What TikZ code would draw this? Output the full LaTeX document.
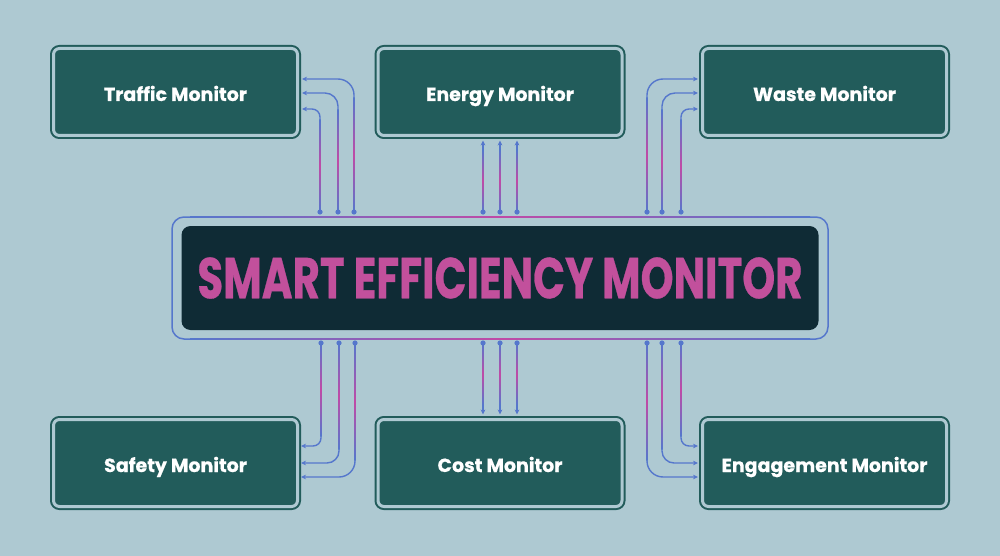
\documentclass[tikz,border=0pt]{standalone}
\usepackage{fontspec}
\newfontfamily\pop{Poppins}[BoldFeatures={FakeBold=0.6}]
\usetikzlibrary{arrows.meta,calc}
\definecolor{bg}{HTML}{AEC9D2}
\definecolor{boxteal}{HTML}{225C5B}
\definecolor{hubdark}{HTML}{0F2B35}
\definecolor{titlemag}{HTML}{C2509C}
\definecolor{lineblue}{HTML}{5577CC}
\definecolor{linemag}{HTML}{C04AA6}
\tikzset{
  smallbox/.style={draw=boxteal, line width=2pt, double=bg, double distance=3pt,
    fill=boxteal, rounded corners=6pt, minimum width=244pt, minimum height=87pt,
    inner sep=0pt, text=white, text height=20pt, text depth=2pt,
    font=\pop\bfseries\fontsize{19}{21}\selectfont},
  conn/.style={draw=lineblue, line width=1.4pt},
  tip/.style={-{Stealth[length=5pt,width=4.6pt]}},
  dotc/.style={fill=lineblue},
}
\newcommand\glowv[3]{\shade[top color=lineblue,bottom color=lineblue,middle color=linemag] (#1-0.7,#2) rectangle (#1+0.7,#3);}
\begin{document}
\begin{tikzpicture}[x=1pt,y=-1pt]
\useasboundingbox (0,0) rectangle (1000,556);
\fill[bg] (0,0) rectangle (1000,556);

% small boxes
\node[smallbox] (traffic) at (175.5,92) {Traffic Monitor};
\node[smallbox] (energy) at (500,92) {Energy Monitor};
\node[smallbox] (waste) at (824.5,92) {Waste Monitor};
\node[smallbox] (safety) at (175.5,463) {Safety Monitor};
\node[smallbox] (cost) at (500,463) {Cost Monitor};
\node[smallbox] (engage) at (824.5,463) {Engagement Monitor};

% hub
\node[draw=lineblue, line width=1.5pt, rounded corners=12pt, minimum width=656pt, minimum height=122pt, inner sep=0pt] (hub) at (500,278) {};
\shade[left color=lineblue,right color=lineblue,middle color=linemag] (190,216.25) rectangle (810,217.75);
\shade[left color=lineblue,right color=lineblue,middle color=linemag] (190,338.25) rectangle (810,339.75);
\node[fill=hubdark, rounded corners=9pt, minimum width=637pt, minimum height=104pt, inner sep=0pt] (hubin) at (500,278) {};
\node[text=titlemag, inner sep=0pt] (title) at (500,278) {\resizebox{605pt}{41pt}{\pop\bfseries SMART EFFICIENCY MONITOR}};

% dot coordinates
\foreach \n/\x in {tl1/320,tl2/338,tl3/354,tm1/483,tm2/500,tm3/517,tr1/647,tr2/662,tr3/681}
  \coordinate (\n) at (\x,212);
\foreach \n/\x in {bl1/321,bl2/339,bl3/355,bm1/483,bm2/500,bm3/517,br1/647,br2/662,br3/681}
  \coordinate (\n) at (\x,343);

% free ends
\coordinate (etl1) at ($(traffic.east)+(3.5,17)$);
\coordinate (etl2) at ($(traffic.east)+(3.5,1)$);
\coordinate (etl3) at ($(traffic.east)+(3.5,-13)$);
\coordinate (etr1) at ($(waste.west)+(-3.5,-13)$);
\coordinate (etr2) at ($(waste.west)+(-3.5,1)$);
\coordinate (etr3) at ($(waste.west)+(-3.5,17)$);
\coordinate (ebl1) at ($(safety.east)+(2.5,-17)$);
\coordinate (ebl2) at ($(safety.east)+(2.5,0)$);
\coordinate (ebl3) at ($(safety.east)+(2.5,14)$);
\coordinate (ebr1) at ($(engage.west)+(-3.5,14)$);
\coordinate (ebr2) at ($(engage.west)+(-3.5,0)$);
\coordinate (ebr3) at ($(engage.west)+(-3.5,-17)$);

% connectors top-left
\draw[conn,tip,rounded corners=8pt] (tl1) -- (tl1 |- etl1) -- (etl1);
\draw[conn,tip,rounded corners=13pt] (tl2) -- (tl2 |- etl2) -- (etl2);
\draw[conn,tip,rounded corners=16pt] (tl3) -- (tl3 |- etl3) -- (etl3);
% top-right
\draw[conn,tip,rounded corners=16pt] (tr1) -- (tr1 |- etr1) -- (etr1);
\draw[conn,tip,rounded corners=13pt] (tr2) -- (tr2 |- etr2) -- (etr2);
\draw[conn,tip,rounded corners=8pt] (tr3) -- (tr3 |- etr3) -- (etr3);
% top-middle
\foreach \n in {tm1,tm2,tm3}
  \draw[conn,tip] (\n) -- ([yshift=-4pt]energy.south -| \n);
% bottom-middle
\foreach \n in {bm1,bm2,bm3}
  \draw[conn,tip] (\n) -- ([yshift=4pt]cost.north -| \n);
% bottom-left
\draw[conn,tip,rounded corners=8pt] (bl1) -- (bl1 |- ebl1) -- (ebl1);
\draw[conn,tip,rounded corners=12pt] (bl2) -- (bl2 |- ebl2) -- (ebl2);
\draw[conn,tip,rounded corners=16pt] (bl3) -- (bl3 |- ebl3) -- (ebl3);
% bottom-right
\draw[conn,tip,rounded corners=8pt] (br3) -- (br3 |- ebr3) -- (ebr3);
\draw[conn,tip,rounded corners=12pt] (br2) -- (br2 |- ebr2) -- (ebr2);
\draw[conn,tip,rounded corners=16pt] (br1) -- (br1 |- ebr1) -- (ebr1);

% glow on straight parts
\glowv{320}{120}{212}\glowv{338}{110}{212}\glowv{354}{98}{212}
\glowv{647}{98}{212}\glowv{662}{110}{212}\glowv{681}{120}{212}
\glowv{483}{150}{212}\glowv{500}{150}{212}\glowv{517}{150}{212}
\glowv{321}{343}{436}\glowv{339}{343}{449}\glowv{355}{343}{460}
\glowv{681}{343}{436}\glowv{662}{343}{449}\glowv{647}{343}{460}
\glowv{483}{343}{405}\glowv{500}{343}{405}\glowv{517}{343}{405}

% dots
\foreach \n in {tl1,tl2,tl3,tm1,tm2,tm3,tr1,tr2,tr3,bl1,bl2,bl3,bm1,bm2,bm3,br1,br2,br3}
  \fill[dotc] (\n) circle (2.6pt);
\end{tikzpicture}
\end{document}
